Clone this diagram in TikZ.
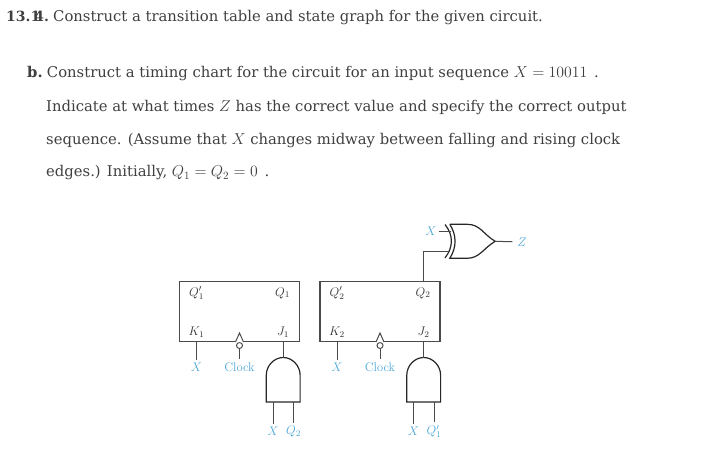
\documentclass[tikz,border=0pt]{standalone}
\usepackage{fix-cm}
\usepackage{fontspec}
\usepackage{xcolor}
\usetikzlibrary{positioning}
\newfontfamily\bookfont{DejaVu Serif}
\newcommand\bookmath[1]{{\fontsize{15.8}{17}\selectfont$#1$}}
\definecolor{proseink}{HTML}{3F3F3F}
\definecolor{wireink}{HTML}{4A4A4A}
\definecolor{inblue}{HTML}{4BA6D6}
\tikzset{
  prose/.style={anchor=base west,inner sep=0pt,text=proseink,font=\fontsize{14.8}{17}\bookfont},
  ffbox/.style={draw=wireink,line width=1.2pt,inner sep=0pt,minimum width=120pt,minimum height=60.5pt},
  gatebox/.style={inner sep=0pt,minimum width=33.4pt,minimum height=44pt},
  wire/.style={draw=wireink,line width=1pt},
  gateline/.style={draw=black!85,line width=1.2pt},
  bubble/.style={circle,draw=wireink,line width=1pt,fill=white,inner sep=0pt,minimum size=6pt},
  pinlabel/.style={inner sep=0pt,text=black!80,font=\fontsize{12.5}{15}\selectfont},
  inlabel/.style={pinlabel,text=inblue,outer sep=3pt}
}
\begin{document}
\begin{tikzpicture}[x=1pt,y=-1pt]
  \useasboundingbox (0,0) rectangle (722,465);
  % question text
  \node[prose] (head) at (6,22) {\textbf{\fontsize{14}{17}\selectfont 13.1\kern-6pt 4.}\kern-2pt{} Construct a transition table and state graph for the given circuit.};
  \node[prose] (lineb) at (27,78) {\textbf{b.}\kern-2pt{} Construct a timing chart for the circuit for an input sequence \bookmath{X = 10011}\kern2pt{} .};
  \node[prose] (linec) at (46,111.5) {Indicate at what times \bookmath{Z} has the correct value and specify the correct output};
  \node[prose] (lined) at (46,145) {sequence. (Assume that \bookmath{X} changes midway between falling and rising clock};
  \node[prose] (linee) at (46,177) {edges.) Initially, \bookmath{Q_1 = Q_2 = 0}\kern2pt{} .};
  % flip-flops with their and gates
  \foreach \i/\x/\lasta/\lastb in {1/239.5/X/Q_2,2/380/X/Q_1'} {
    \node[ffbox] (ff\i) at (\x,311.5) {};
    \node[pinlabel] (qn\i) at (\x-43,293) {$Q_\i'$};
    \node[pinlabel] (q\i) at (\x+43,293) {$Q_\i$};
    \node[pinlabel] (k\i) at (\x-43,332) {$K_\i$};
    \node[pinlabel] (j\i) at (\x+43.5,332) {$J_\i$};
    \node[inlabel] (kin\i) at (\x-43,367) {$X$};
    \node[inlabel] (clk\i) at (\x,367) {Clock};
    \node[bubble] (bub\i) at (\x,345.5) {};
    \draw[wire,fill=white] (\x-4,342) -- (\x,333) -- (\x+4,342);
    \node[gatebox] (and\i) at (\x+43.7,379.7) {};
    \node[inlabel] (ina\i) at (\x+33.5,431) {$\lasta$};
    \node[inlabel] (inb\i) at (\x+54,431.5) {$\lastb$};
    \draw[gateline] ([yshift=4.7pt]and\i.west) .. controls +(0,-9.2) and +(-9.2,0) .. (and\i.north)
      .. controls +(9.2,0) and +(0,-9.2) .. ([yshift=4.7pt]and\i.east) -- (and\i.south east) -- (and\i.south west) -- cycle;
    \draw[wire] (k\i |- ff\i.south) -- (kin\i);
    \draw[wire] (bub\i) -- (clk\i);
    \draw[wire] (and\i.north |- ff\i.south) -- (and\i.north);
    \draw[wire] (ina\i |- and\i.south) -- (ina\i);
    \draw[wire] (inb\i |- and\i.south) -- (inb\i);
  }
  % output gate
  \node[gatebox,minimum width=45pt,minimum height=33.6pt] (xorg) at (472.5,241.3) {};
  \draw[gateline] (xorg.north west) .. controls +(7,11) and +(7,-11) .. (xorg.south west)
    -- ++(17,0) .. controls +(13,0) and +(-12,7) .. (xorg.east)
    .. controls +(-12,-7) and +(13,0) .. ([xshift=-28pt]xorg.north east) -- (xorg.north west);
  \draw[gateline] (445,224.5) .. controls (453.5,235) and (453.5,247) .. (445,258);
  \node[inlabel,outer sep=2pt] (xin) at (431,231) {$X$};
  \node[inlabel,outer sep=5pt] (zout) at (522,242) {$Z$};
  \coordinate (xport) at (451,231);
  \coordinate (qport) at (450,251.7);
  \draw[wire] (xin) -- (xport);
  \draw[wire] (q2 |- ff2.north) |- (qport);
  \draw[wire] (xorg.east) -- (zout);
\end{tikzpicture}
\end{document}
